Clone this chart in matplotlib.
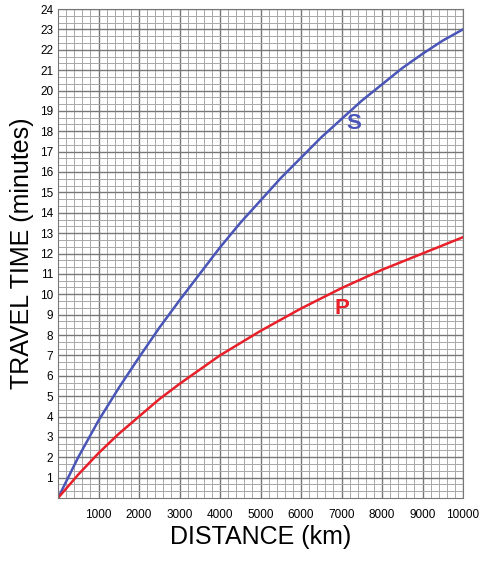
import matplotlib
matplotlib.use("Agg")
import matplotlib.pyplot as plt
import numpy as np

plt.rcParams['font.family'] = ['Liberation Sans', 'DejaVu Sans']

distance = [0, 500, 1000, 1500, 2000, 2500, 3000, 3500, 4000, 4500, 5000, 5500, 6000, 6500, 7000, 7500, 8000, 8500, 9000, 9500, 10000]
s_time = [0, 2.0, 3.8, 5.4, 6.9, 8.35, 9.7, 11.0, 12.3, 13.5, 14.6, 15.7, 16.7, 17.7, 18.6, 19.5, 20.3, 21.1, 21.8, 22.45, 23.0]
p_time = [0, 1.15, 2.2, 3.15, 4.0, 4.85, 5.6, 6.3, 7.0, 7.6, 8.2, 8.75, 9.3, 9.8, 10.3, 10.75, 11.2, 11.6, 12.0, 12.4, 12.8]

fig = plt.figure(figsize=(4.95, 5.62), dpi=100)
ax = fig.add_axes([58/495, 1-498/562, 405/495, 489/562])
ax.set_xlim(0, 10000)
ax.set_ylim(0, 24)
ax.set_xticks(np.arange(1000, 10001, 1000))
ax.set_yticks(np.arange(1, 25, 1))
ax.set_xticks(np.arange(0, 10001, 200), minor=True)
ax.set_yticks(np.arange(0, 24.01, 1/3), minor=True)
ax.grid(which='minor', color='#a8a8a8', lw=0.7)
ax.grid(which='major', color='#777777', lw=1.0)
ax.tick_params(which='both', length=0, labelsize=8.5)
ax.tick_params(axis='x', pad=8)
for s in ax.spines.values():
    s.set_color('#777777')

ax.plot(distance, s_time, color='#4a55b8', lw=1.8)
ax.plot(distance, p_time, color='#e8202a', lw=1.8)
ax.text(7300, 18.4, 'S', color='#4a55b8', fontsize=16, fontweight='bold', ha='center', va='center')
ax.text(7000, 9.3, 'P', color='#e8202a', fontsize=16, fontweight='bold', ha='center', va='center')

ax.set_xlabel('DISTANCE (km)', fontsize=18, labelpad=3)
ax.set_ylabel('TRAVEL TIME (minutes)', fontsize=18, labelpad=4)
fig.savefig('out.png', dpi=100)
